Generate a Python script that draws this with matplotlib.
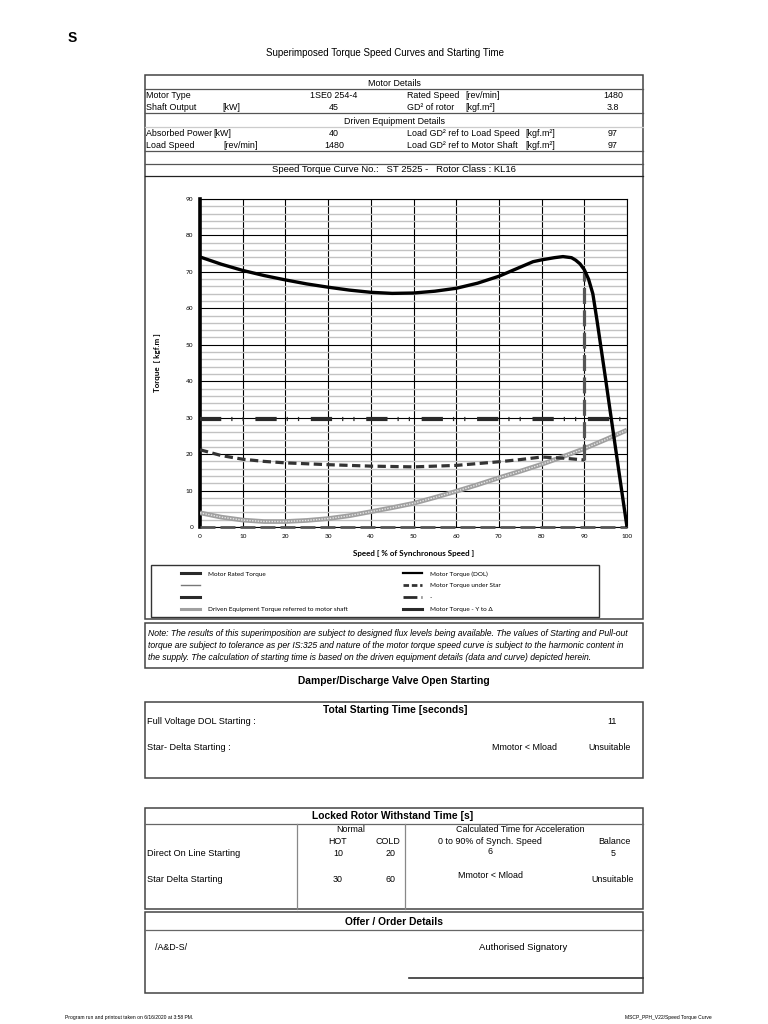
import matplotlib
matplotlib.use('Agg')
import matplotlib.pyplot as plt
from matplotlib.patches import Rectangle
from matplotlib.lines import Line2D
from matplotlib.ticker import MultipleLocator

plt.rcParams['font.family'] = ['Liberation Sans Narrow', 'Liberation Sans', 'DejaVu Sans']

W, H = 768, 1024

# ---- chart data ----
dol_speed = [0, 5, 10, 15, 20, 25, 30, 35, 40, 45, 50, 55, 60, 65, 70, 75, 78, 80, 83, 85,
             87, 88, 89, 90, 91, 92, 93, 94, 95, 96, 97, 98, 99, 100]
dol_torque = [74.1, 72.1, 70.4, 69.0, 67.8, 66.7, 65.8, 65.0, 64.4, 64.1, 64.2, 64.7, 65.5, 66.9,
              68.8, 71.3, 72.8, 73.3, 73.9, 74.2, 73.9, 73.2, 72.2, 70.6, 68.0, 64.0, 56.5, 48.5,
              40.5, 32.3, 24.2, 16.1, 8.0, 0.0]

star_speed = [0, 5, 10, 15, 20, 30, 40, 50, 60, 70, 75, 80, 85, 88, 90]
star_torque = [21.2, 19.6, 18.6, 18.0, 17.6, 17.1, 16.7, 16.5, 16.9, 17.9, 18.5, 19.2, 18.9, 18.6, 18.4]

load_speed = [0, 5, 10, 15, 20, 25, 30, 35, 40, 45, 50, 55, 60, 65, 70, 75, 80, 85, 90, 95, 100]
load_torque = [3.9, 2.7, 1.9, 1.5, 1.5, 1.8, 2.3, 3.1, 4.2, 5.3, 6.5, 8.1, 9.8, 11.6, 13.5, 15.3,
               17.2, 19.3, 21.5, 24.0, 26.6]

rated_speed = [0, 100]
rated_torque = [29.6, 29.6]

yd_speed = [90, 90]
yd_torque = [18.4, 70.6]

zero_speed = [0, 100]
zero_torque = [0, 0]

# ---- table texts ----
motor_rows = [
    ["Motor Type", "", "1SE0 254-4", "Rated Speed", "[rev/min]", "1480"],
    ["Shaft Output", "[kW]", "45", "GD\u00b2 of rotor", "[kgf.m\u00b2]", "3.8"],
]
driven_rows = [
    ["Absorbed Power", "[kW]", "40", "Load GD\u00b2 ref to Load Speed", "[kgf.m\u00b2]", "97"],
    ["Load Speed", "[rev/min]", "1480", "Load GD\u00b2 ref to Motor Shaft", "[kgf.m\u00b2]", "97"],
]
note_lines = [
    "Note: The results of this superimposition are subject to designed flux levels being available. The values of Starting and Pull-out",
    "torque are subject to tolerance as per IS:325 and nature of the motor torque speed curve is subject to the harmonic content in",
    "the supply. The calculation of starting time is based on the driven equipment details (data and curve) depicted herein.",
]
dol_start_time = "11"
star_delta_result = ["Mmotor < Mload", "Unsuitable"]
locked_rows = [
    ["Direct On Line Starting", "10", "20", "6", "5"],
    ["Star Delta Starting", "30", "60", "Mmotor < Mload", "Unsuitable"],
]

fig = plt.figure(figsize=(W / 100, H / 100), dpi=100)


def fx(x):
    return x / W


def fy(y):
    return 1 - y / H


def txt(x, y, s, ha='left', size=6.4, **kw):
    fig.text(fx(x), fy(y), s, ha=ha, va='center', fontsize=size, **kw)


def box(x0, y0, x1, y1, lw=1.1, ec='#444444'):
    fig.add_artist(Rectangle((fx(x0), fy(y1)), fx(x1) - fx(x0), fy(y0) - fy(y1),
                             transform=fig.transFigure, fill=False, ec=ec, lw=lw))


def hline(y, x0, x1, lw=0.9, color='#555555'):
    fig.add_artist(Line2D([fx(x0), fx(x1)], [fy(y), fy(y)], transform=fig.transFigure,
                          color=color, lw=lw))


def vline(x, y0, y1, lw=0.9, color='#888888'):
    fig.add_artist(Line2D([fx(x), fx(x)], [fy(y0), fy(y1)], transform=fig.transFigure,
                          color=color, lw=lw))


# header
txt(68, 38, "S", size=10, fontweight='bold', family=['Liberation Sans', 'DejaVu Sans'])
txt(385, 53, "Superimposed Torque Speed Curves and Starting Time", ha='center', size=7.0,
    family=['Liberation Sans', 'DejaVu Sans'])

# motor / driven details table
box(145, 75, 643, 619)
hline(89, 145, 643)
hline(113, 145, 643)
hline(127, 145, 643, color='#cccccc')
hline(151, 145, 643)
hline(164, 145, 643)
hline(176, 145, 643, color='#222222')
txt(394, 83, "Motor Details", ha='center')
txt(394, 121, "Driven Equipment Details", ha='center')
for rows, ys, unit_x in [(motor_rows, [95, 107], [222, 465]), (driven_rows, [133, 145], [213, 525])]:
    for r, y in zip(rows, ys):
        txt(146, y, r[0])
        txt(unit_x[0] if r[0] != "Load Speed" else 223, y, r[1])
        txt(334, y, r[2], ha='center')
        txt(407, y, r[3])
        txt(unit_x[1], y, r[4])
        txt(613, y, r[5], ha='center')
txt(394, 169, "Speed Torque Curve No.:   ST 2525 -   Rotor Class : KL16", ha='center', size=6.8)

# ---- chart ----
ax = fig.add_axes([fx(200), fy(527), fx(627) - fx(200), fy(199) - fy(527)])
ax.set_xlim(0, 100)
ax.set_ylim(0, 90)
ax.xaxis.set_major_locator(MultipleLocator(10))
ax.yaxis.set_major_locator(MultipleLocator(10))
ax.yaxis.set_minor_locator(MultipleLocator(2))
ax.grid(which='minor', axis='y', color='#c2c2c2', lw=1.0)
ax.grid(which='major', color='black', lw=0.8)
ax.set_axisbelow(True)
for s in ax.spines.values():
    s.set_linewidth(0.8)
ax.spines['left'].set_linewidth(2.6)
ax.tick_params(which='both', length=0, labelsize=4.6, pad=5)
for lab in ax.get_xticklabels() + ax.get_yticklabels():
    lab.set_family(['Lato', 'DejaVu Sans'])

ax.plot(load_speed, load_torque, color='#a0a0a0', lw=3.4, solid_capstyle='butt', zorder=3)
ax.plot(load_speed, load_torque, color='#e6e6e6', lw=1.0, dashes=(1, 1), zorder=3)
ax.plot(rated_speed, rated_torque, color='#2a2a2a', lw=3.0,
        dashes=(5.1, 2.4, 0.3, 2.4, 0.3, 2.8), zorder=3)
ax.plot(zero_speed, zero_torque, color='#555555', lw=2.0, dashes=(5.4, 1.8), zorder=3,
        clip_on=False)
ax.plot(star_speed, star_torque, color='#333333', lw=2.3, dashes=(2.6, 1.4), zorder=4)
ax.plot(yd_speed, yd_torque, color='#555555', lw=2.3, dashes=(5, 2), zorder=4)
ax.plot(dol_speed, dol_torque, color='black', lw=2.4, zorder=5, solid_joinstyle='round')

ax.set_ylabel("Torque  [ kgf.m ]", fontsize=5.8, fontweight='bold', labelpad=18,
              family=['Lato', 'DejaVu Sans'])
ax.set_xlabel("Speed [ % of Synchronous Speed ]", fontsize=5.8, fontweight='bold', labelpad=8,
              family=['Lato', 'DejaVu Sans'])

# legend (two columns drawn as two legends inside one frame)
box(151, 565, 599, 617, lw=1.0, ec='#333333')
col1 = [
    (Line2D([], [], color='#2a2a2a', lw=2.2), "Motor Rated Torque"),
    (Line2D([], [], color='#777777', lw=1.0), ""),
    (Line2D([], [], color='#2a2a2a', lw=2.2), ""),
    (Line2D([], [], color='#a0a0a0', lw=2.2), "Driven Equipment Torque referred to motor shaft"),
]
col2 = [
    (Line2D([], [], color='black', lw=1.6), "Motor Torque (DOL)"),
    (Line2D([], [], color='#333333', lw=2.0, dashes=(2, 1)), "Motor Torque under Star"),
    (Line2D([], [], color='#2a2a2a', lw=2.0, dashes=(5, 1.5, 0.3, 3)), "-"),
    (Line2D([], [], color='#2a2a2a', lw=2.2), "Motor Torque - Y to \u0394"),
]
for items, x0 in [(col1, 176), (col2, 398)]:
    fig.legend([h for h, _ in items], [l for _, l in items], loc='upper left',
               bbox_to_anchor=(fx(x0), fy(566)), frameon=False,
               handlelength=3.0, handletextpad=1.2, labelspacing=1.0, borderpad=0.3,
               prop={'family': ['Lato', 'DejaVu Sans'], 'size': 4.6})

# note
box(145, 623, 643, 668)
for y, line in zip([634, 646, 658], note_lines):
    txt(148, y, line, size=6.25, style='italic')

txt(394, 681, "Damper/Discharge Valve Open Starting", ha='center', size=7.4, fontweight='bold',
    family=['Liberation Sans', 'DejaVu Sans'])

# total starting time
box(145, 702, 643, 778)
txt(395, 710, "Total Starting Time [seconds]", ha='center', size=7.4, fontweight='bold',
    family=['Liberation Sans', 'DejaVu Sans'])
txt(147, 722, "Full Voltage DOL Starting :", size=6.6)
txt(612, 722, dol_start_time, ha='center')
txt(147, 748, "Star- Delta Starting :", size=6.6)
txt(525, 748, star_delta_result[0], ha='center')
txt(610, 748, star_delta_result[1], ha='center')

# locked rotor withstand time
box(145, 808, 643, 909)
hline(824, 145, 643, color='#666666')
vline(297, 824, 909)
vline(405, 824, 909)
txt(393, 816, "Locked Rotor Withstand Time [s]", ha='center', size=7.4, fontweight='bold',
    family=['Liberation Sans', 'DejaVu Sans'])
txt(351, 829, "Normal", ha='center')
txt(520, 829, "Calculated Time for Acceleration", ha='center')
txt(338, 841, "HOT", ha='center')
txt(388, 841, "COLD", ha='center')
txt(490, 841, "0 to 90% of Synch. Speed", ha='center')
txt(614, 841, "Balance", ha='center')
for r, y in zip(locked_rows, [854, 879]):
    txt(147, y, r[0], size=6.6)
    txt(338, y, r[1], ha='center')
    txt(391, y, r[2], ha='center')
    txt(490, y - 3, r[3], ha='center')
    txt(613, y, r[4], ha='center')

# offer / order details
box(145, 912, 643, 993)
hline(930, 145, 643, color='#666666')
txt(394, 922, "Offer / Order Details", ha='center', size=7.4, fontweight='bold',
    family=['Liberation Sans', 'DejaVu Sans'])
txt(155, 948, "/A&D-S/")
txt(523, 948, "Authorised Signatory", ha='center', size=6.8)
hline(978, 409, 643, lw=1.2, color='#333333')

# footer
txt(65, 1017, "Program run and printout taken on 6/16/2020 at 3:58 PM.", size=3.6)
txt(712, 1017, "MSCP_PPH_V22/Speed Torque Curve", ha='right', size=3.6)

fig.savefig("out.png", dpi=100)
